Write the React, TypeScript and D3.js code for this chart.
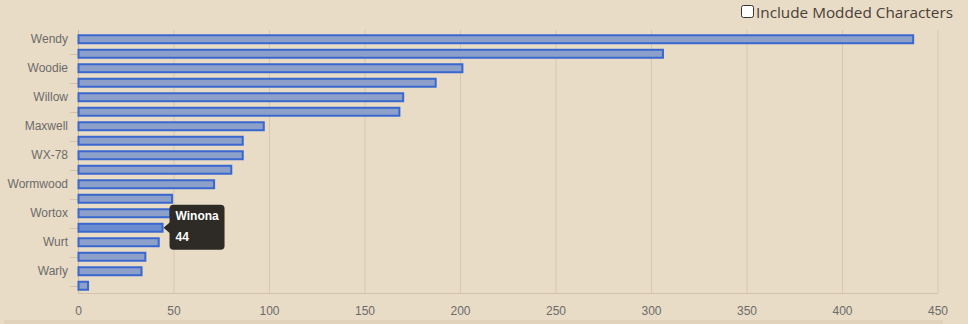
import React from "react";
import * as d3 from "d3";

const characters = [
  "Wendy", "Wilson", "Woodie", "Wigfrid", "Willow", "Wolfgang", "Maxwell",
  "Wickerbottom", "WX-78", "Webber", "Wormwood", "Walter", "Wortox", "Winona",
  "Wurt", "Wanda", "Warly", "Wes",
];
const counts = [437, 306, 201, 187, 170, 168, 97, 86, 86, 80, 71, 49, 48, 44, 42, 35, 33, 5];
const xTicks = [0, 50, 100, 150, 200, 250, 300, 350, 400, 450];
const highlighted = "Winona";

const W = 968;
const H = 324;
const BG = "#e9dcc6";

export default function App() {
  const x = d3.scaleLinear().domain([0, 450]).range([78.5, 938]);
  const y = d3
    .scaleBand<string>()
    .domain(characters)
    .range([32, 293])
    .paddingInner(0.45)
    .paddingOuter(0.225);

  const hi = characters.indexOf(highlighted);
  const hiY = (y(highlighted) as number) + y.bandwidth() / 2;
  const hiX = x(counts[hi]) + 1;
  const tipX = hiX + 6;
  const tipTop = hiY - 23;

  return (
    <div style={{ position: "fixed", left: 0, top: 0, width: W, height: H, background: BG }}>
      <svg width={W} height={H} style={{ display: "block" }}>
        <rect x={0} y={0} width={W} height={H} fill={BG} />
        <rect x={4} y={320} width={939} height={4} fill="#e1d3bb" />
        {/* gridlines */}
        {xTicks.map((t) => (
          <line key={t} x1={x(t)} x2={x(t)} y1={30} y2={293} stroke={t === 0 ? "#c9b9a0" : "#d6c7ae"} strokeWidth={1} />
        ))}
        <line x1={78} x2={938} y1={293.5} y2={293.5} stroke="#d2c2a8" strokeWidth={1} />
        {/* x tick labels */}
        {xTicks.map((t) => (
          <text key={"l" + t} x={x(t)} y={315} textAnchor="middle" fontFamily="Liberation Sans, Arial, sans-serif" fontSize={12} fill="#6b6b6b">
            {t}
          </text>
        ))}
        {/* y labels and ticks */}
        {characters.map((c, i) => {
          const cy = (y(c) as number) + y.bandwidth() / 2;
          return i % 2 === 0 ? (
            <text key={c} x={68} y={cy + 4} textAnchor="end" fontFamily="Liberation Sans, Arial, sans-serif" fontSize={12} fill="#6b6b6b">
              {c}
            </text>
          ) : (
            <line key={c} x1={70} x2={78} y1={Math.round(cy) + 0.5} y2={Math.round(cy) + 0.5} stroke="#d2c2a8" />
          );
        })}
        {/* bars */}
        {characters.map((c, i) => (
          <rect
            key={"b" + c}
            x={x(0)}
            y={y(c) as number}
            width={x(counts[i]) - x(0)}
            height={y.bandwidth()}
            fill={c === highlighted ? "#6b8bd0" : "#8da0c9"}
            stroke="#3a67cf"
            strokeWidth={2}
          />
        ))}
        {/* tooltip */}
        <g>
          <rect x={tipX} y={tipTop} width={55} height={45} rx={4} fill="#2e2a25" />
          <path d={`M${tipX - 6},${hiY} L${tipX + 1},${hiY - 6} L${tipX + 1},${hiY + 6} Z`} fill="#2e2a25" />
          <text x={tipX + 6} y={tipTop + 15} fontFamily="Liberation Sans, Arial, sans-serif" fontSize={12} fontWeight="bold" fill="#ffffff">
            {highlighted}
          </text>
          <text x={tipX + 6} y={tipTop + 36} fontFamily="Liberation Sans, Arial, sans-serif" fontSize={12} fontWeight="bold" fill="#ffffff">
            {counts[hi]}
          </text>
        </g>
        {/* checkbox */}
        <rect x={741.5} y={5.5} width={12} height={12} rx={2} fill="#ffffff" stroke="#333333" strokeWidth={1} />
        <text x={756} y={18} fontFamily="Open Sans, sans-serif" fontSize={15.3} fill="#4a4038">
          Include Modded Characters
        </text>
      </svg>
    </div>
  );
}
